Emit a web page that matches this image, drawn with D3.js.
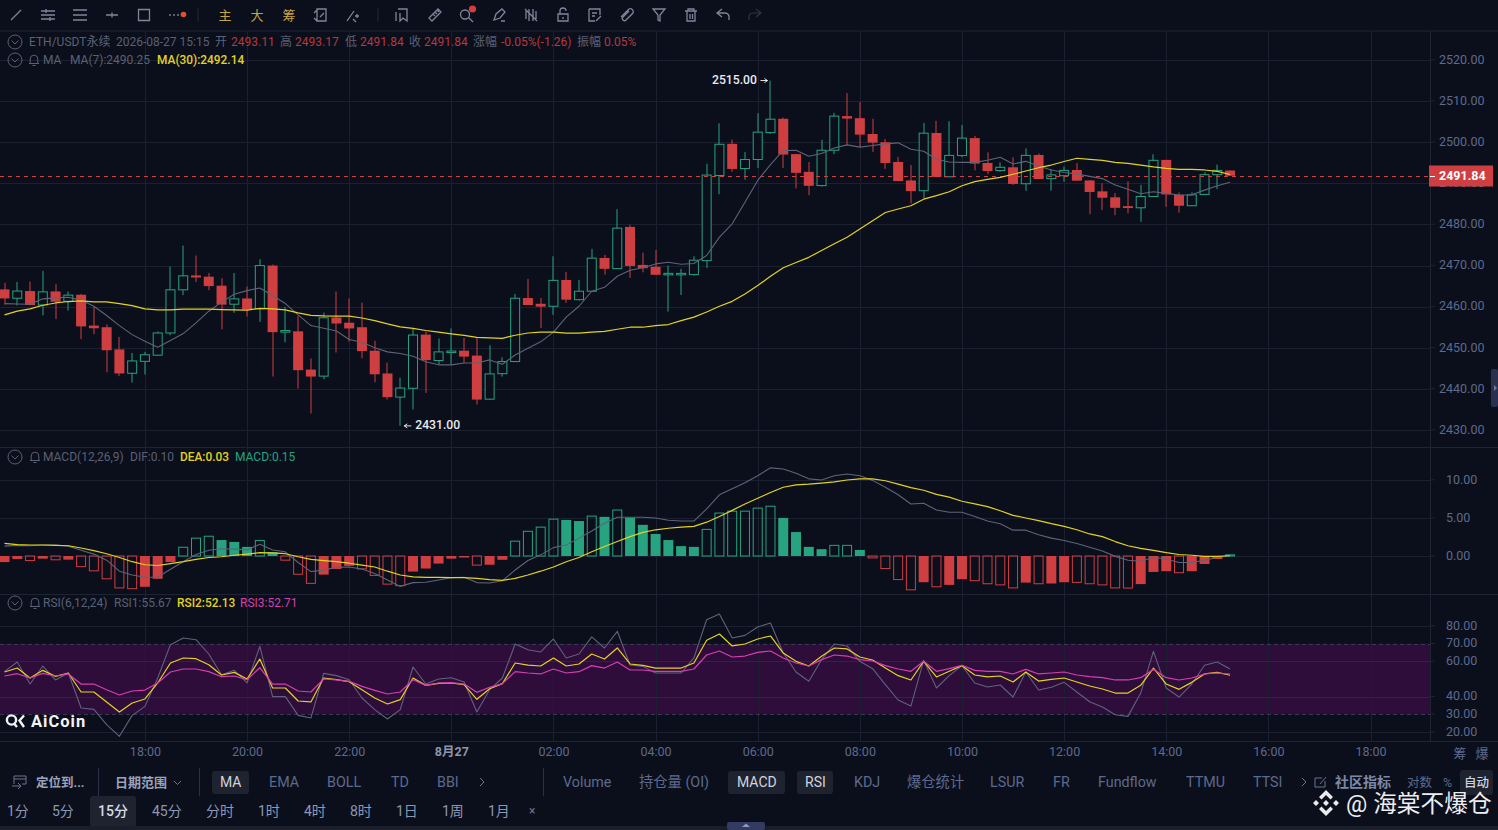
<!DOCTYPE html>
<html><head><meta charset="utf-8">
<script src="https://cdn.jsdelivr.net/npm/d3@7/dist/d3.min.js"></script>
<style>
html,body{margin:0;padding:0;background:#0b0f1b;overflow:hidden}
svg{display:block}
text{font-family:Roboto,"Noto Sans CJK SC",sans-serif}
</style></head><body><div id="chart"></div>
<script>
// ---------- Data ----------
const open=[2464.2,2462.05,2463.8,2460.4,2463.7,2461.3,2462.9,2455.4,2455,2449.6,2443.8,2446.7,2448.2,2453.6,2464.1,2467.6,2467.3,2465.1,2460.6,2462,2459.5,2470,2453.8,2454,2444.7,2443.1,2457.35,2456.1,2455,2449.3,2443.75,2438,2440.15,2453.2,2446.9,2448.9,2449.3,2448.1,2437.5,2443.7,2446.65,2462.1,2460.7,2460.1,2466.5,2461.7,2463.75,2471.85,2469.25,2479.4,2470.15,2469.7,2467.9,2467.9,2467.8,2471.2,2491.9,2499.6,2493.6,2495.8,2502.35,2505.7,2497.1,2492.8,2489.45,2498.05,2506.35,2505.85,2502,2500,2495.2,2490.7,2488.2,2502.25,2491.6,2496.75,2501,2494.95,2493.1,2493.9,2489.9,2496.9,2491.15,2491.85,2493.25,2490.7,2488.05,2486.6,2484.45,2484.05,2486.8,2495.7,2487.2,2484.55,2487.3,2492.1,2493.11];
const close=[2462,2463.8,2460.4,2463.6,2461.2,2462.8,2455.2,2454.75,2449.4,2443.75,2446.8,2448.3,2453.6,2464.1,2467.5,2467.1,2465,2460.5,2461.9,2459.3,2470,2453.8,2454.2,2444.55,2443,2457.3,2455.9,2454.7,2449.2,2443.55,2438,2440.2,2453.1,2447,2449,2449.2,2447.85,2437.4,2443.65,2446.65,2462.05,2460.4,2460,2466.4,2461.7,2463.75,2471.8,2469.2,2479.1,2469.9,2469.35,2467.75,2468.1,2468.1,2471.3,2492,2499.5,2493.5,2495.8,2502.45,2505.6,2497,2492.55,2489.4,2498.05,2506.35,2505.75,2501.85,2499.9,2494.95,2490.55,2488.1,2502.2,2491.55,2496.8,2501,2494.8,2493,2493.9,2489.85,2496.8,2491.05,2492.05,2493.15,2490.65,2487.9,2486.5,2484.05,2484,2486.8,2495.6,2487.3,2484.55,2487.2,2492.1,2493.15,2491.84];
const high=[2465.8,2466.03,2466.1,2468.7,2465.5,2463.7,2463.1,2460,2455.7,2452.65,2448.75,2449,2454,2469.75,2474.85,2472.45,2468.2,2466.9,2468.2,2464.9,2471.5,2470.25,2459.9,2457.7,2447.4,2458.55,2463.7,2462,2461,2451.7,2446.4,2442.7,2454.75,2453.9,2452.25,2454.7,2452.4,2452.55,2450.6,2447.7,2463.1,2466.75,2462.1,2472.25,2468.45,2466.5,2474.05,2472.6,2483.7,2479.9,2473.15,2473.8,2470,2469.2,2472.25,2494.75,2504.6,2500.65,2497.6,2507.05,2515,2506,2497.15,2495.2,2500.6,2507.15,2511.95,2509.8,2505.7,2500.8,2496.4,2494.45,2504.7,2505.2,2505.1,2504.2,2501.55,2497.55,2495.1,2496.35,2498.5,2497.3,2493.5,2494.05,2494.95,2490.8,2490,2487.65,2490.5,2489.65,2497.05,2495.7,2487.8,2487.8,2492.7,2494.55,2493.17];
const low=[2460.5,2460.3,2460.3,2457.9,2457,2459.05,2452.1,2453.3,2444.05,2443.1,2441.55,2443.5,2448,2453.05,2462.8,2466,2464,2454.5,2458.5,2457.6,2456.3,2443,2451.35,2440.1,2434,2442.35,2448.85,2451.5,2447.45,2441.6,2437.4,2431,2435,2439,2446,2446,2446.3,2436.2,2437.4,2443,2446.65,2460.4,2454.8,2458,2460.9,2461.5,2463.7,2467.8,2469.2,2467,2468.35,2467.75,2458.8,2462.85,2467.55,2469.4,2487.35,2492.8,2490.9,2493.75,2502,2493.75,2488.75,2487.1,2489.2,2497.1,2499.3,2498.8,2497.65,2493.5,2490.55,2485.1,2486.35,2491.55,2491.55,2496.35,2493.15,2492.25,2492.75,2489.6,2488.2,2491.05,2488.2,2490.4,2490.65,2482.5,2483.5,2482.25,2482.7,2480.65,2486.75,2484.3,2482.85,2484.45,2487.2,2488.6,2491.84];
const ma7=[2460.75,2460.65,2460.6,2461.9,2462.15,2462.3,2461.6,2460.1,2457.85,2455.4,2453.2,2451.6,2450.15,2451.75,2453.45,2456.05,2458.9,2461.1,2463,2463.9,2464.55,2462.7,2460.75,2458,2455.4,2454.75,2454.1,2452,2451.35,2450,2449,2448.6,2447.95,2446.6,2445.85,2445.85,2446.3,2446.3,2447.05,2446,2448.25,2449.9,2451.45,2453.8,2457.45,2460.1,2463.75,2464.7,2467.4,2468.85,2469.45,2470.4,2470.8,2470.3,2470.5,2472.45,2476.9,2480.15,2485.4,2490.7,2494.55,2498,2498.05,2496.6,2497.25,2498.6,2499.35,2498.8,2499.2,2499.6,2499.85,2498.3,2497.8,2495.85,2495.2,2495.1,2495.1,2495.6,2496.35,2494.7,2495.35,2494.2,2493.25,2492.65,2492.25,2491.7,2491.15,2489.6,2488.55,2487.45,2487.95,2487.55,2487.15,2487.2,2488.35,2489.4,2490.25];
const ma30=[2458,2458.9,2459.45,2460.35,2460.9,2461.25,2461.4,2461.15,2461.15,2460.75,2460.25,2459.45,2459.2,2459.2,2459.4,2459.4,2459.4,2459.3,2459.2,2459.15,2459.6,2459.45,2459.2,2458.5,2457.9,2457.75,2457.7,2457.7,2457.25,2456.6,2455.8,2455.1,2454.7,2454.2,2453.8,2453.4,2453,2452.55,2452.4,2452.3,2453.05,2453.6,2453.8,2453.8,2453.55,2453.55,2453.8,2454,2454.5,2455,2455,2455.4,2455.65,2456.6,2457.45,2458.7,2460.1,2461.3,2463.1,2465.15,2467.4,2469.45,2470.75,2472,2473.65,2475.3,2476.9,2478.9,2480.9,2482.9,2483.75,2484.55,2486.15,2487,2487.95,2489.4,2490.4,2490.95,2491.45,2492.2,2493,2493.8,2494.45,2495.3,2496.1,2495.85,2495.6,2495.1,2494.85,2494.45,2494,2493.65,2493.4,2493.4,2493.25,2492.9,2492.14];
const macdBars=[-0.8,-0.4,-0.6,-0.35,-0.5,-0.48,-1.4,-1.95,-3,-4.2,-4.3,-4.05,-3,-0.8,1.15,2.35,2.6,2.1,1.85,1.2,2.05,0.5,-0.55,-2.4,-3.6,-2.45,-1.7,-1.3,-1.7,-2.55,-3.7,-3.9,-2.05,-1.65,-1,-0.35,-0.2,-1.2,-1.15,-0.5,1.95,3.25,3.8,4.85,4.75,4.6,5.25,5.15,6.05,5.05,4.1,2.9,2.1,1.3,1.2,3.5,5.65,5.9,5.9,6.3,6.55,5,3.15,1.2,0.9,1.4,1.4,0.8,-0.25,-1.65,-3.1,-4.45,-3.45,-4.05,-3.8,-3.05,-3.25,-3.65,-3.8,-4.2,-3.5,-3.65,-3.62,-3.45,-3.47,-3.65,-3.8,-4.2,-4.22,-3.7,-2.1,-2,-2.2,-2,-1.05,-0.4,0.15];
const dif=[1.3,1.4,1.35,1.45,1.45,1.3,0.75,0.25,-0.55,-2,-2.5,-2.8,-2.8,-1.75,-0.75,0.2,0.75,0.95,0.9,0.8,1.55,0.8,0.55,-0.85,-2.05,-1.85,-1.5,-1.45,-1.7,-2.3,-3.15,-4,-3.5,-3.45,-3.15,-2.85,-2.8,-3.5,-3.55,-3.25,-1.85,-0.6,0.15,1.1,1.45,2.35,3.3,4.3,5.1,5.1,5.1,5,4.7,4.6,4.6,6.2,8.05,8.85,9.65,10.55,11.6,11.45,10.9,10.15,10,10.55,10.8,10.55,9.95,9.05,8.05,6.85,6.95,6.05,5.75,5.75,5.2,4.6,4.25,3.4,3.4,2.8,2.35,2.05,1.65,1.15,0.65,-0.05,-0.55,-0.7,-0.2,-0.4,-0.85,-0.85,-0.55,-0.2,0.1];
const dea=[1.65,1.5,1.45,1.45,1.4,1.35,1.05,0.7,0.3,-0.2,-0.75,-1.15,-1.25,-1,-0.75,-0.45,-0.2,-0.1,0.1,0.25,0.45,0.4,0.3,-0.1,-0.45,-0.6,-0.75,-0.95,-1.2,-1.45,-2,-2.5,-2.75,-2.8,-2.8,-2.85,-2.85,-2.95,-3.1,-3.2,-2.95,-2.5,-2,-1.45,-0.75,-0.2,0.55,1.25,1.9,2.55,3.1,3.45,3.65,3.8,3.9,4.45,5.2,6,6.85,7.6,8.35,9.05,9.35,9.45,9.6,9.75,10,10.15,10.15,9.9,9.45,9,8.65,8.1,7.75,7.2,6.85,6.5,5.95,5.35,5,4.65,4.25,3.9,3.45,2.9,2.55,1.9,1.35,1,0.75,0.45,0.2,0.1,-0.05,-0.05,0.03];
const rsi1=[54.3,59.6,47.2,57.35,49.45,53.4,33.6,32.8,24.15,17.55,29.4,34.5,50.55,69.45,73.2,72.25,64.15,52.45,54.9,47.75,68.5,40,40,29.4,27.9,53.2,51.9,49.6,39.25,32.65,27.35,32.65,56.8,47.15,50,50.75,48.3,31.3,43.95,50.55,69.8,66.6,65.3,72.65,61.9,64.15,73.8,67.55,77,57.9,57.15,53.4,53.4,53.4,61.9,83.6,86.8,73.2,74.7,79.45,81.7,64.7,53.95,48.7,60.95,69.8,68.7,60,55.85,46.8,38.1,34.7,60.55,44.9,51.9,57.55,47.75,45.45,46.6,39.8,53.95,43.75,45.3,48.1,42.65,37.15,34.15,29.8,28.85,42.05,65.65,44.9,39.8,47.15,57.75,59.6,55.67];
const rsi2=[53.95,56.2,50.55,54.9,51.5,53.4,42.65,42.65,37,31.3,36.4,38.7,47.75,59.05,61.9,61.5,58.1,52.25,53.75,50,61.3,44.9,44.9,37.55,37,50.55,49.6,48.5,43.95,39.25,35.85,38.3,50.55,46.4,47.55,47.75,46.8,38.5,44.5,47.35,59.05,57.9,57.35,61.9,57.35,58.5,64.15,61.3,67.55,58.5,57.75,56.2,56.2,56.2,59.05,71.9,75.45,68.7,69.8,72.65,74.35,64.7,60,57.35,62.85,67.55,67,62.45,60.75,56.2,51.9,49.45,60,51.15,54.35,57.55,52.25,51.15,51.7,48.3,53.95,48.85,49.8,50.55,48.3,46.05,44.35,42.05,42.05,46.4,56.2,47.15,44.15,48.1,52.85,53.75,52.13];
const rsi3=[51.7,53,50.55,53.2,51.7,52.85,47.15,47.15,43.95,40.95,43.2,43.75,47.75,53.95,55.65,55.65,54.15,51.3,51.7,49.6,56.4,47.15,47.15,43.2,42.65,50,49.45,48.7,45.85,43.6,41.5,42.65,49.6,46.4,47.75,47.9,47.15,42.45,45.3,47.35,54.15,53.4,52.85,55.65,53.4,54.15,57.55,56.2,59.6,55.1,55.1,54.35,54.35,54.35,55.65,63.6,65.85,62.45,63,65.1,65.85,61.9,59.05,57.35,60.95,63.6,63,60.95,60.2,57.55,55.65,54.35,60,54.35,55.85,57.75,54.9,54.35,54.35,52.85,55.45,52.85,53.4,53.95,52.25,51.3,50.75,49.45,49.45,50.75,55.45,50.75,49.45,50.55,52.85,53.4,52.71];
const priceTicks=[2430,2440,2450,2460,2470,2480,2490,2500,2510,2520];
const macdTicks=[0,5,10];
const rsiTicks=[20,30,40,60,70,80];
const rsiGrid=[20,40,60,80];
const rsiBand=[30,70];
const timeLabels=["18:00","20:00","22:00","8月27","02:00","04:00","06:00","08:00","10:00","12:00","14:00","16:00","18:00"];
const lastPrice=2491.84;
const maxPoint={idx:60,price:2515};
const minPoint={idx:31,price:2431};

// ---------- Palette ----------
const C={bg:"#0b0f1b",grid:"#1b2030",axis:"#1f2434",up:"#27a380",down:"#cf3e40",ma7:"#5e6379",ma30:"#e3d31f",
  mag:"#d53fae",band:"#2e0d3b",txt:"#5c6a8e",label:"#5a6076",white:"#e8ebf2",red2:"#b43a3e"};
const W=1498,H=830,axisX=1430;

const svg=d3.select("#chart").append("svg").attr("width",W).attr("height",H);
svg.append("rect").attr("width",W).attr("height",H).attr("fill",C.bg);

// ---------- Scales ----------
const tickIdx=timeLabels.map((_,i)=>11+8*i);
const x=d3.scaleLinear().domain([0,107]).range([4.5,1370.5]);
const yP=d3.scaleLinear().domain([2430,2520]).range([430,60]);
const yM=d3.scaleLinear().domain([0,10]).range([556,480]);
const yR=d3.scaleLinear().domain([20,80]).range([732,626]);
const snap=v=>Math.round(v)+0.5;

// ---------- Grids ----------
const gGrid=svg.append("g").attr("stroke",C.grid).attr("stroke-width",1);
gGrid.selectAll("line.v").data(tickIdx).join("line").attr("class","v")
  .attr("x1",d=>snap(x(d))).attr("x2",d=>snap(x(d))).attr("y1",31).attr("y2",741);
const hLine=(vals,sc)=>gGrid.append("g").selectAll("line").data(vals).join("line")
  .attr("x1",0).attr("x2",axisX).attr("y1",d=>snap(sc(d))).attr("y2",d=>snap(sc(d)));
hLine(priceTicks,yP);hLine(macdTicks,yM);hLine(rsiGrid,yR);
[[31],[447.5],[594.5],[741.5]].forEach(([y])=>gGrid.append("line").attr("x1",0).attr("x2",W).attr("y1",y).attr("y2",y).attr("stroke",C.axis));
gGrid.append("line").attr("x1",axisX+.5).attr("x2",axisX+.5).attr("y1",31).attr("y2",741).attr("stroke",C.axis);

// ---------- Y axes ----------
function yAxis(sc,vals,fmt){
  const g=svg.append("g").attr("transform",`translate(${axisX},-0.7)`)
    .call(d3.axisRight(sc).tickValues(vals).tickSize(5).tickPadding(4).tickFormat(fmt));
  g.select(".domain").remove();
  g.selectAll("line").attr("stroke",C.axis);
  g.selectAll("text").attr("fill",C.txt).style("font-size","12.5px");
  return g;
}
yAxis(yP,priceTicks,d3.format(".2f")).selectAll("text").attr("x",9);
yAxis(yM,macdTicks,d3.format(".2f")).selectAll("text").attr("x",16);
yAxis(yR,rsiTicks,d3.format(".2f")).selectAll("text").attr("x",16);

// ---------- Time axis ----------
const gT=svg.append("g").attr("transform","translate(0,741)")
  .call(d3.axisBottom(x).tickValues(tickIdx).tickSize(0).tickPadding(6).tickFormat((d,i)=>timeLabels[i]));
gT.select(".domain").remove();
gT.selectAll("text").style("font-size","12.5px")
  .attr("font-weight",(d,i)=>timeLabels[i].includes("月")?"700":"400")
  .attr("fill",(d,i)=>timeLabels[i].includes("月")?"#8d95ad":C.txt);
[["筹",1460],["爆",1482]].forEach(([t,px])=>svg.append("text").attr("x",px).attr("y",758).attr("text-anchor","middle").attr("fill",C.txt).style("font-size","13px").text(t));

// ---------- RSI band ----------
svg.append("rect").attr("x",0).attr("width",axisX).attr("y",yR(rsiBand[1])).attr("height",yR(rsiBand[0])-yR(rsiBand[1])).attr("fill",C.band);
gGrid.raise();
svg.append("g").selectAll("line").data(rsiGrid.filter(d=>d>30&&d<70)).join("line")
  .attr("x1",0).attr("x2",axisX).attr("y1",d=>snap(yR(d))).attr("y2",d=>snap(yR(d))).attr("stroke","#3e1a50").attr("stroke-width",1);
svg.append("g").selectAll("line").data(rsiBand).join("line")
  .attr("x1",0).attr("x2",axisX).attr("y1",d=>snap(yR(d))).attr("y2",d=>snap(yR(d))).attr("stroke","#333a52").attr("stroke-dasharray","4 3");
svg.selectAll("g.tick").raise();

// ---------- Candles ----------
const idx=d3.range(open.length);
const isUp=i=>close[i]>=open[i];
const gC=svg.append("g");
gC.selectAll("line").data(idx).join("line")
  .attr("x1",i=>snap(x(i))-.5).attr("x2",i=>snap(x(i))-.5)
  .attr("y1",i=>yP(high[i])).attr("y2",i=>yP(low[i]))
  .attr("stroke",i=>isUp(i)?C.up:C.down).attr("stroke-width",1);
gC.selectAll("rect").data(idx).join("rect")
  .attr("x",i=>x(i)-(isUp(i)?4.5:5)).attr("width",i=>isUp(i)?9:10)
  .attr("y",i=>yP(Math.max(open[i],close[i])))
  .attr("height",i=>Math.max(1.5,Math.abs(yP(open[i])-yP(close[i]))))
  .attr("fill",i=>isUp(i)?C.bg:C.down)
  .attr("stroke",i=>isUp(i)?C.up:"none").attr("stroke-width",1);

// ---------- Lines ----------
const lineOf=(sc,a)=>d3.line().x((_,i)=>x(i)).y(d=>sc(d))(a);
function drawLine(sc,a,color,w){svg.append("path").attr("d",lineOf(sc,a)).attr("fill","none").attr("stroke",color).attr("stroke-width",w).attr("stroke-linejoin","round");}

svg.append("line").attr("x1",0).attr("x2",axisX).attr("y1",snap(yP(lastPrice))).attr("y2",snap(yP(lastPrice))).attr("stroke",C.down).attr("stroke-dasharray","4 4");
drawLine(yP,ma7,C.ma7,1.1);
drawLine(yP,ma30,C.ma30,1.2);

// ---------- MACD ----------
const rising=i=>i===0?true:macdBars[i]>=macdBars[i-1];
const barCol=v=>v>=0?C.up:C.down;
const barHollow=i=>{const v=macdBars[i];return v>=0?rising(i):!rising(i);};
svg.append("g").selectAll("rect").data(idx).join("rect")
  .attr("x",i=>x(i)-(barHollow(i)?4.5:5)).attr("width",i=>barHollow(i)?9:10)
  .attr("y",i=>Math.min(yM(0),yM(macdBars[i])))
  .attr("height",i=>Math.abs(yM(macdBars[i])-yM(0)))
  .attr("fill",i=>barHollow(i)?"none":barCol(macdBars[i]))
  .attr("stroke",i=>barHollow(i)?barCol(macdBars[i]):"none");
drawLine(yM,dif,C.ma7,1.1);
drawLine(yM,dea,C.ma30,1.2);

// ---------- RSI ----------
drawLine(yR,rsi1,C.ma7,1.1);
drawLine(yR,rsi2,C.ma30,1.2);
drawLine(yR,rsi3,C.mag,1.2);

// ---------- Last price tag ----------
const lp=snap(yP(lastPrice));
svg.append("rect").attr("x",axisX-1).attr("y",lp-11).attr("width",64).attr("height",21).attr("fill",C.down);
svg.append("line").attr("x1",axisX).attr("x2",axisX+5).attr("y1",lp).attr("y2",lp).attr("stroke","#fff");
svg.append("text").attr("x",axisX+9).attr("y",lp+3.5).attr("fill","#fff").attr("font-weight",700).style("font-size","12.5px").text(d3.format(".2f")(lastPrice));

// ---------- Hi / lo marks ----------
const arrow=(x0,x1,y)=>{svg.append("path").attr("d",`M${x0} ${y}H${x1}M${x1+(x1>x0?-3:3)} ${y-2}L${x1} ${y}L${x1+(x1>x0?-3:3)} ${y+2}`).attr("fill","none").attr("stroke","#fff").attr("stroke-width",.9);};
svg.append("text").attr("x",x(maxPoint.idx)-13.5).attr("y",yP(maxPoint.price)+3.5).attr("text-anchor","end").attr("fill",C.white).attr("font-weight",500).style("font-size","12.2px").text(d3.format(".2f")(maxPoint.price));
arrow(x(maxPoint.idx)-10,x(maxPoint.idx)-3,yP(maxPoint.price));
svg.append("text").attr("x",x(minPoint.idx)+15).attr("y",yP(minPoint.price)+3.5).attr("fill",C.white).attr("font-weight",500).style("font-size","12.2px").text(d3.format(".2f")(minPoint.price));
arrow(x(minPoint.idx)+11,x(minPoint.idx)+4,yP(minPoint.price));

// ---------- Legends ----------
function label(t,px,py,col,extra={}){
  const s=svg.append("text").attr("x",px).attr("y",py).attr("fill",col).style("font-size",(extra.size||12)+"px").text(t);
  if(extra.weight)s.attr("font-weight",extra.weight);
  if(extra.anchor)s.attr("text-anchor",extra.anchor);
  return s;
}
function chevCircle(cx,cy){
  svg.append("circle").attr("cx",cx).attr("cy",cy).attr("r",7).attr("fill","none").attr("stroke",C.label);
  svg.append("path").attr("d",`M${cx-3.5} ${cy-1.5}L${cx} ${cy+2}L${cx+3.5} ${cy-1.5}`).attr("fill","none").attr("stroke",C.label);
}
function bell(cx,cy){
  svg.append("path").attr("d",`M${cx-5} ${cy+3.5}H${cx+5}M${cx-3.8} ${cy+3.5}V${cy-1}A3.8 3.8 0 0 1 ${cx+3.8} ${cy-1}V${cy+3.5}M${cx-1.5} ${cy+5.5}H${cx+1.5}`).attr("fill","none").attr("stroke",C.label);
}
chevCircle(15,42);
[["ETH/USDT永续",29,C.label],["2026-08-27 15:15",116,C.label],["开",215,C.label],["2493.11",231,C.red2],["高",280,C.label],["2493.17",295,C.red2],["低",345,C.label],["2491.84",360,C.red2],["收",409,C.label],["2491.84",424,C.red2],["涨幅",473,C.label],["-0.05%(-1.26)",501,C.red2],["振幅",577,C.label],["0.05%",604,C.red2]]
 .forEach(([t,px,c])=>label(t,px,46,c));
chevCircle(15,60);bell(34,60);
label("MA",43,64,C.label);label("MA(7):2490.25",70,64,C.label);label("MA(30):2492.14",157,64,C.ma30,{size:11.9,weight:500});
chevCircle(15,457);bell(35,457);
label("MACD(12,26,9)",43,461,C.label);label("DIF:0.10",130,461,C.label);label("DEA:0.03",180,461,C.ma30,{size:11.9,weight:500});label("MACD:0.15",235,461,C.up);
chevCircle(15,603);bell(35,603);
label("RSI(6,12,24)",43,607,C.label);label("RSI1:55.67",114,607,C.label);label("RSI2:52.13",177,607,C.ma30,{size:11.9,weight:500});label("RSI3:52.71",240,607,C.mag);

// ---------- AiCoin mark ----------
const ai=svg.append("g").attr("fill","none").attr("stroke","#f2f3f6").attr("stroke-width",2.4);
ai.append("circle").attr("cx",11.5).attr("cy",720).attr("r",4.6);
ai.append("path").attr("d","M14 723.500L17 727M24 715.500L19.500 720.500L24 727");
label("AiCoin",31,727,"#f2f3f6",{size:16.5,weight:700}).attr("letter-spacing",1);

// ---------- Toolbar ----------
const icons=[
 [16,"M-5 5L5-5"],[48,"M-7-4H7M-7 0H7M-7 4H7M-2-6V-2M2 2V6"],[80,"M-7-5H7M-7 0H7M-7 5H7"],[112,"M-6 0H6M0-2.5V2.5"],[144,"M-5.5-5.5H5.5V5.5H-5.5Z"],
 [321,"M-4-6H5V6H-4ZM-7-2L-4-5M-7 3L-4 6M-1 2L3-2"],[353,"M-6 6L1-4M2 1L6 1M4-1V3M0 4L3 7"],
 [403,"M-5-6H4V6L0 3L-3 6V-2M-7-3V6"],[435,"M-6 3L3-6L6-3L-3 6ZM-2-1L0 1M0-3L2-1M2-5L4-3"],[467,"M-2-5A4.5 4.5 0 1 1-2 4A4.5 4.5 0 1 1-2-5M1.5 2.5L6 7"],[499,"M-5 5L-3-1L3-6L6-3L1 3ZM2 6H6"],
 [531,"M-5-4V4M-2-6V6M2-6V6M5-4V4M-6-6L6 6"],[563,"M-5-1H5V6H-5ZM-3-1V-4A3 3 0 0 1 3-4M0 2V4"],[595,"M-6-6H5V0M-6-6V6H0M-3-2H2M-3 1H0M1 6L6 1"],[627,"M-6 2L2-6A3 3 0 0 1 6-2L-1 5A2 2 0 0 1-4 2L2-4"],
 [659,"M-6-6H6L1 0V6L-1 5V0Z"],[691,"M-6-4H6M-3-4V-6H3V-4M-4-4V6H4V-4M-1-1V4M1.5-1V4"],[723,"M-1-6L-6-2L-1 2M-6-2H2A4 4 0 0 1 6 3V5"]];
const tb=svg.append("g").attr("fill","none").attr("stroke","#7f869c").attr("stroke-width",1.3);
icons.forEach(([px,d])=>tb.append("path").attr("transform",`translate(${px},15)`).attr("d",d));
svg.append("path").attr("transform","translate(755,15)").attr("d","M1-6L6-2L1 2M6-2H-2A4 4 0 0 0-6 3V5").attr("fill","none").attr("stroke","#2f3445").attr("stroke-width",1.2);
svg.append("g").selectAll("circle").data([170,174,178]).join("circle").attr("cx",d=>d).attr("cy",15).attr("r",.9).attr("fill","#7f869c");
svg.append("circle").attr("cx",183.5).attr("cy",14.5).attr("r",2.8).attr("fill","#d8552f");
svg.append("circle").attr("cx",472.500).attr("cy",9).attr("r",3.6).attr("fill","#d63c3c");
[198,378].forEach(px=>svg.append("line").attr("x1",px).attr("x2",px).attr("y1",8).attr("y2",22).attr("stroke","#232839"));
[["主",225],["大",257],["筹",289]].forEach(([t,px])=>label(t,px,20,"#c6a44a",{size:13,anchor:"middle"}));

// ---------- Bottom rows ----------
const pills=[[212,37,771,23],[728,57,771,23],[797,36,771,23],[1460,33,770,25]];
svg.append("g").selectAll("rect").data(pills).join("rect").attr("x",d=>d[0]).attr("width",d=>d[1]).attr("y",d=>d[2]).attr("height",d=>d[3]).attr("rx",3).attr("fill","#1f2330");
svg.append("rect").attr("x",90).attr("y",796).attr("width",46).attr("height",31).attr("rx",3).attr("fill","#1f2330");
[98,199,543].forEach(px=>svg.append("line").attr("x1",px+.5).attr("x2",px+.5).attr("y1",768).attr("y2",796).attr("stroke","#2a3047"));
const row1Labels=["EMA","BOLL","TD","BBI","Volume","持仓量 (OI)","KDJ","爆仓统计","LSUR","FR","Fundflow","TTMU","TTSI"];
const row1X=[269,327,391,437,563,639,854,907,990,1053,1098,1186,1253];
row1Labels.forEach((t,i)=>label(t,row1X[i],787,C.txt,{size:14.3}));
label("MA",220,787,"#cfd3de",{size:14});label("MACD",737,787,"#cfd3de",{size:14});label("RSI",805,787,"#cfd3de",{size:14});
label("定位到...",36,787,"#9aa3bd",{size:12.5,weight:700});
label("日期范围",115,787,"#9aa3bd",{size:13,weight:700});
label("社区指标",1335,787,"#7d88a8",{size:14,weight:700});
label("对数",1407,787,C.txt,{size:12.5});label("%",1443,787,C.txt,{size:12.5});
label("自动",1464,787,"#cfd3de",{size:12.5,weight:500});
const nav=svg.append("g").attr("fill","none").attr("stroke","#6b7591");
nav.append("path").attr("d","M174 781L177.500 784.500L181 781M480 778L484 782L480 786M1302 778L1306 782L1302 786");
nav.append("path").attr("d","M14 784V776H26V784H22M14 779H26M12 786H20M18 783L21 786L18 789");
nav.append("path").attr("d","M1315 778H1322M1315 778V787H1325V781M1320 784L1326 777");
const row2Labels=["1分","5分","15分","45分","分时","1时","4时","8时","1日","1周","1月"];
const row2X=[7,52,98,152,206,258,304,350,396,442,488];
row2Labels.forEach((t,i)=>label(t,row2X[i],816,i===2?"#d6dae5":"#8d97b3",{size:14,weight:i===2?500:400}));
label("×",529,815,"#6b7591",{size:12});

// bottom strip, scroll tabs
svg.append("rect").attr("x",0).attr("y",826).attr("width",W).attr("height",4).attr("fill","#1a1e2b");
svg.append("rect").attr("x",727).attr("y",822).attr("width",38).attr("height",8).attr("rx",2).attr("fill","#343b63");
svg.append("path").attr("d","M742 827L746 823.500L750 827Z").attr("fill","#8f98bd");
svg.append("rect").attr("x",1491).attr("y",369).attr("width",7).attr("height",38).attr("rx",2).attr("fill","#2a3050");
svg.append("path").attr("d","M1494 385L1497 388L1494 391Z").attr("fill","#6f78a0");

// ---------- Watermark ----------
const wm=svg.append("g").attr("transform","translate(1326,803)").attr("fill","#e9ebef");
wm.append("path").attr("d","M0-13L7-6L4.500-3.500L0-8L-4.500-3.500L-7-6ZM0 13L7 6L4.500 3.500L0 8L-4.500 3.500L-7 6ZM-13 0L-10-3L-7 0L-10 3ZM13 0L10-3L7 0L10 3ZM0-3L3 0L0 3L-3 0Z");
label("@ 海棠不爆仓",1346,812,"#eceef2",{size:23.7});
</script></body></html>
